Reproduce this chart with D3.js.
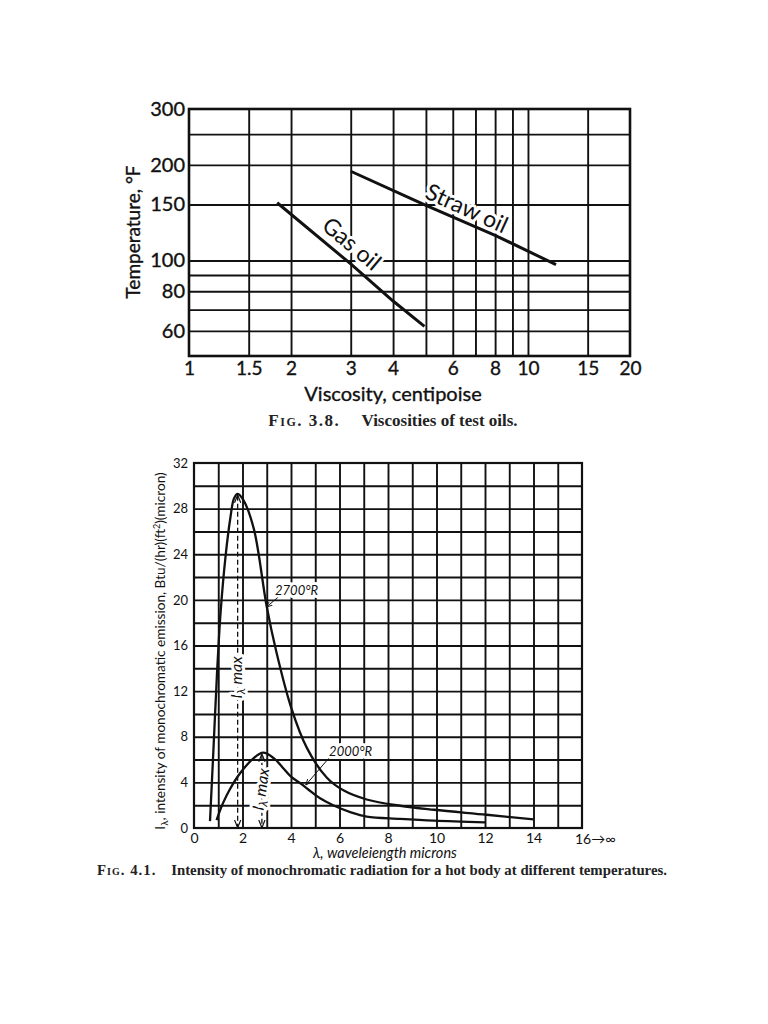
<!DOCTYPE html>
<html>
<head>
<meta charset="utf-8">
<script src="https://cdn.jsdelivr.net/npm/d3@7"></script>
<style>
  body { margin:0; background:#fff; }
  svg { display:block; }
  .grid line { stroke:#111; stroke-width:1.9; }
  .grid path { display:none; }
  .lbl path, .lbl line { display:none; }
  .halo { paint-order:stroke; stroke:#fff; stroke-width:6; stroke-linejoin:round; }
  .ink { stroke:#111; stroke-width:0.35; }
</style>
</head>
<body>
<svg id="chart" width="768" height="1024"></svg>
<script>
// ---- Fig 3.8 data (viscosity vs temperature, log-log) ----
var visGrid = [1.5, 2, 3, 4, 5, 6, 7, 8, 9, 10, 15];
var visTicks = [1, 1.5, 2, 3, 4, 6, 8, 10, 15, 20];
var tempGrid = [60, 70, 80, 90, 100, 150, 200, 250];
var tempTicks = [60, 80, 100, 150, 200, 300];
var strawOil = [[3, 191], [5, 149], [8, 120], [12.1, 97]];
var gasOil = [[1.82, 152], [3, 97.5], [4, 74.5], [4.95, 62]];

// ---- Fig 4.1 data (monochromatic emission) ----
var waveTicks = [0, 2, 4, 6, 8, 10, 12, 14];
var intensityTicks = [0, 4, 8, 12, 16, 20, 24, 28, 32];
var curve2700 = [[0.66, 0.6], [0.8, 6.8], [0.95, 13.6], [1.1, 19.0], [1.3, 23.8], [1.5, 27.2],
  [1.65, 28.9], [1.8, 29.3], [2.05, 28.7], [2.47, 26.2], [3.0, 19.4], [3.4, 15.4],
  [4.0, 10.6], [4.66, 7.0], [5.48, 4.4], [6.16, 3.3], [7.12, 2.5], [8.5, 1.95], [9.9, 1.6],
  [12.07, 1.16], [14, 0.75]];
var curve2000 = [[0.93, 0.7], [1.2, 2.2], [1.48, 3.4], [1.9, 4.8], [2.45, 6.1], [2.85, 6.6],
  [3.3, 6.1], [3.7, 5.2], [4.0, 4.5], [4.4, 3.9], [4.7, 3.4], [5.2, 2.6], [5.74, 2.0],
  [6.5, 1.35], [7.12, 1.0], [8.5, 0.8], [9.9, 0.64], [12, 0.5]];
var peaks = [{x: 1.8, y: 29.3, lab: 13.2, rot: -90}, {x: 2.8, y: 6.6, lab: 3.4, rot: -82}];

var svg = d3.select('#chart');

/////////////// FIG 3.8 ///////////////
var x1 = d3.scaleLog().domain([1, 20]).range([189, 630]);
var y1 = d3.scaleLog().domain([50, 300]).range([356, 109]);
var topG = svg.append('g');

topG.append('g').attr('class', 'grid')
  .attr('transform', 'translate(0,356)')
  .call(d3.axisBottom(x1).tickValues(visGrid).tickSize(-247).tickFormat(''));
topG.append('g').attr('class', 'grid')
  .attr('transform', 'translate(189,0)')
  .call(d3.axisLeft(y1).tickValues(tempGrid).tickSize(-441).tickFormat(''));

topG.append('rect').attr('x', 189).attr('y', 109).attr('width', 441).attr('height', 247)
  .attr('fill', 'none').attr('stroke', '#111').attr('stroke-width', 2.6);

var xl = topG.append('g').attr('class', 'lbl')
  .attr('transform', 'translate(0,356)')
  .call(d3.axisBottom(x1).tickValues(visTicks).tickSize(0).tickPadding(6).tickFormat(d3.format('')));
xl.selectAll('text').attr('class', 'ink').attr('font-family', 'Lato').attr('font-size', 19).attr('fill', '#111');
var yl = topG.append('g').attr('class', 'lbl')
  .attr('transform', 'translate(189,0)')
  .call(d3.axisLeft(y1).tickValues(tempTicks).tickSize(0).tickPadding(4).tickFormat(d3.format('')));
yl.selectAll('text').attr('class', 'ink').attr('font-family', 'Lato').attr('font-size', 20).attr('fill', '#111');

var line1 = d3.line().x(function(d) { return x1(d[0]); }).y(function(d) { return y1(d[1]); });
[strawOil, gasOil].forEach(function(s) {
  topG.append('path').attr('d', line1(s)).attr('fill', 'none')
    .attr('stroke', '#111').attr('stroke-width', 3);
});

function oilLabel(txt, d, rot) {
  topG.append('text').attr('class', 'halo')
    .attr('transform', 'translate(' + x1(d[0]) + ',' + y1(d[1]) + ') rotate(' + rot + ')')
    .attr('text-anchor', 'middle').attr('dy', '0.35em')
    .attr('font-family', 'Lato').attr('font-size', 23).attr('fill', '#111')
    .text(txt);
}
oilLabel('Straw oil', [6.6, 146], 24.5);
oilLabel('Gas oil', [3.02, 113], 40);

topG.append('text').attr('class', 'ink').attr('transform', 'translate(140,232) rotate(-90)')
  .attr('text-anchor', 'middle').attr('font-family', 'Lato').attr('font-size', 19)
  .attr('fill', '#111').text('Temperature, °F');
topG.append('text').attr('class', 'ink').attr('x', 393).attr('y', 401).attr('text-anchor', 'middle')
  .attr('font-family', 'Lato').attr('font-size', 20).attr('fill', '#111')
  .text('Viscosity, centipoise');

var cap1 = topG.append('text').attr('x', 393).attr('y', 426).attr('text-anchor', 'middle')
  .attr('font-family', 'Liberation Serif').attr('font-size', 17).attr('font-weight', 'bold').attr('fill', '#222');
cap1.append('tspan').attr('font-variant', 'small-caps').attr('letter-spacing', 1.5).text('Fig. 3.8.');
cap1.append('tspan').text('\u00a0\u00a0\u00a0\u00a0\u00a0Viscosities of test oils.');

/////////////// FIG 4.1 ///////////////
var x2 = d3.scaleLinear().domain([0, 16]).range([194, 582]);
var y2 = d3.scaleLinear().domain([0, 32]).range([828, 463]);
var bot = svg.append('g');

bot.append('g').attr('class', 'grid')
  .attr('transform', 'translate(0,828)')
  .call(d3.axisBottom(x2).tickValues(d3.range(1, 16)).tickSize(-365).tickFormat(''));
bot.append('g').attr('class', 'grid')
  .attr('transform', 'translate(194,0)')
  .call(d3.axisLeft(y2).tickValues(d3.range(2, 32, 2)).tickSize(-388).tickFormat(''));
bot.selectAll('.grid line').attr('stroke-width', 1.6);

bot.append('rect').attr('x', 194).attr('y', 463).attr('width', 388).attr('height', 365)
  .attr('fill', 'none').attr('stroke', '#111').attr('stroke-width', 2.2);

var xl2 = bot.append('g').attr('class', 'lbl')
  .attr('transform', 'translate(0,828)')
  .call(d3.axisBottom(x2).tickValues(waveTicks).tickSize(0).tickPadding(5));
xl2.selectAll('text').attr('font-family', 'Lato').attr('font-size', 14).attr('fill', '#111');
bot.append('text').attr('x', x2(16) - 7).attr('y', 844)
  .attr('font-family', 'Lato').attr('font-size', 14).attr('fill', '#111').text('16\u2192\u221e');
var yl2 = bot.append('g').attr('class', 'lbl')
  .attr('transform', 'translate(194,0)')
  .call(d3.axisLeft(y2).tickValues(intensityTicks).tickSize(0).tickPadding(6));
yl2.selectAll('text').attr('font-family', 'Lato').attr('font-size', 13).attr('fill', '#111');

// arrow markers for the dashed lambda-max lines
var defs = svg.append('defs');
defs.append('marker').attr('id', 'arr').attr('viewBox', '0 0 10 10').attr('refX', 9).attr('refY', 5)
  .attr('markerWidth', 6).attr('markerHeight', 6).attr('orient', 'auto-start-reverse')
  .append('path').attr('d', 'M0,1L10,5L0,9').attr('fill', 'none').attr('stroke', '#111').attr('stroke-width', 1.5);

peaks.forEach(function(p) {
  bot.append('line').attr('x1', x2(p.x)).attr('x2', x2(p.x))
    .attr('y1', y2(p.y) + 2).attr('y2', y2(0) - 1)
    .attr('stroke', '#111').attr('stroke-width', 1.3).attr('stroke-dasharray', '5,3')
    .attr('marker-start', 'url(#arr)').attr('marker-end', 'url(#arr)');
  var t = bot.append('text').attr('class', 'halo')
    .attr('transform', 'translate(' + (x2(p.x) - 1) + ',' + y2(p.lab) + ') rotate(' + p.rot + ')')
    .attr('text-anchor', 'middle').attr('dy', '0.35em')
    .attr('font-family', 'Lato').attr('font-style', 'italic').attr('font-size', 16).attr('fill', '#111');
  t.append('tspan').text('I');
  t.append('tspan').attr('font-size', 12).attr('dy', 3).text('\u03bb');
  t.append('tspan').attr('dy', -3).text(' max');
});

var line2 = d3.line().curve(d3.curveCatmullRom.alpha(0.5))
  .x(function(d) { return x2(d[0]); }).y(function(d) { return y2(d[1]); });
[curve2700, curve2000].forEach(function(c) {
  bot.append('path').attr('d', line2(c)).attr('fill', 'none')
    .attr('stroke', '#111').attr('stroke-width', 2.3);
});

// curve labels with leaders
function curveLabel(txt, at, from, to) {
  bot.append('text').attr('x', x2(at[0])).attr('y', y2(at[1])).attr('dy', '0.35em')
    .attr('text-anchor', 'middle').attr('class', 'halo')
    .attr('font-family', 'Lato').attr('font-style', 'italic').attr('font-size', 13).attr('fill', '#111')
    .text(txt);
  bot.append('line').attr('x1', x2(from[0])).attr('y1', y2(from[1]))
    .attr('x2', x2(to[0])).attr('y2', y2(to[1]))
    .attr('stroke', '#111').attr('stroke-width', 1).attr('marker-end', 'url(#arr)');
}
curveLabel('2700°R', [4.23, 20.85], [3.45, 20.2], [3.0, 19.4]);
curveLabel('2000°R', [6.46, 6.7], [5.55, 6.1], [4.62, 3.8]);

bot.append('text').attr('transform', 'translate(165,651) rotate(-90)')
  .attr('text-anchor', 'middle').attr('font-family', 'Lato').attr('font-size', 13.6).attr('fill', '#111')
  .html('I<tspan font-size="10" dy="3">\u03bb</tspan><tspan dy="-3">, intensity of monochromatic emission, Btu/(hr)(ft</tspan><tspan font-size="9" dy="-5">2</tspan><tspan dy="5">)(micron)</tspan>');

bot.append('text').attr('x', 385).attr('y', 858).attr('text-anchor', 'middle')
  .attr('font-family', 'Lato').attr('font-style', 'italic').attr('font-size', 14.5).attr('fill', '#111')
  .text('\u03bb, waveleiength microns');

var cap2 = bot.append('text').attr('x', 382).attr('y', 875).attr('text-anchor', 'middle')
  .attr('font-family', 'Liberation Serif').attr('font-size', 14.8).attr('font-weight', 'bold').attr('fill', '#222');
cap2.append('tspan').attr('font-variant', 'small-caps').attr('letter-spacing', 1).text('Fig. 4.1.');
cap2.append('tspan').text('\u00a0\u00a0\u00a0\u00a0Intensity of monochromatic radiation for a hot body at different temperatures.');
</script>
</body>
</html>
